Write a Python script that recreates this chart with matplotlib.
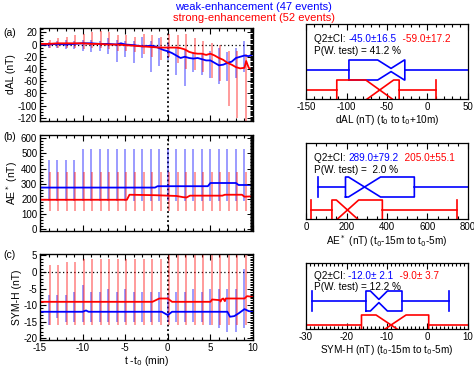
import matplotlib
matplotlib.use("Agg")
import matplotlib.pyplot as plt
import numpy as np
from matplotlib.ticker import MultipleLocator, NullFormatter

plt.rcParams["font.family"] = ["Liberation Sans", "DejaVu Sans"]
plt.rcParams["axes.unicode_minus"] = False

BLUE = "#0000ff"
RED = "#ff0000"

# --- error bars: quartile range at each minute ---
BAR_T = np.arange(-14, 10)
dal_blue_lo = [-6, -6, -8, -8, -10, -12, -10, -15, -28, -20, -30, -22, -45, -35,
               -25, -50, -68, -45, -50, -55, -65, -60, -55, -45]
dal_blue_hi = [4, 6, 7, 6, 8, 8, 6, 10, 8, 6, 5, 12, 5, 10,
               2, -5, -8, -12, -15, -10, -5, -12, -5, 5]
dal_red_lo = [-5, -6, -5, -6, -8, -6, -5, -8, -10, -10, -12, -15, -20, -25,
              -20, -30, -40, -42, -45, -55, -60, -100, -120, -130]
dal_red_hi = [8, 10, 12, 15, 18, 20, 22, 20, 15, 15, 12, 18, 15, 12,
              18, 15, 18, 10, 5, 2, 0, -10, -10, -15]

ae_blue_lo = [187] * 24
ae_blue_hi = [455, 455, 455, 455] + [527] * 20
ae_red_lo = [119] * 24
ae_red_hi = [378] * 24

sym_blue_lo = [-16, -14, -15, -15, -15, -15, -15, -15, -15, -15, -15, -15, -15, -15,
               -15, -15, -15, -15, -15, -16, -17, -18, -18, -17]
sym_blue_hi = [-7, -7, -7, -6, -4, -6, -6, -5, -6, -5, -6, -6, -6, -6,
               -7, -6, -6, -5, -6, -5, -5, -5, -5, 1]
sym_red_lo = [-16] * 24
sym_red_hi = [2, 2, 3, 3, 4, 4, 4, 4, 4, 4, 4, 4, 4, 4,
              5, 5, 5, 5, 5, 5, 5, 5, 5, 5]

# --- median curves ---
dal_blue_t = [-15, -14, -13, -12, -11, -10, -9, -8, -7, -6, -5.5, -5, -4, -3, -2, -1.5,
              -1, -0.5, 0, 0.5, 1, 1.5, 2, 2.5, 3, 3.5, 4, 4.5, 5, 5.5, 6, 6.5, 7,
              7.5, 8, 8.5, 9, 9.5, 10]
dal_blue_v = [0, 0, 1, 0, 1, 2, 2, 1, 1, 0, 2, 0, -1, -3, -2, -3, -6, -9, -11, -14,
              -18, -22, -20, -22, -23, -22, -24, -26, -26, -30, -34, -33, -30, -28,
              -22, -20, -18, -19, -16]
dal_red_t = [-15, -14, -13, -12, -11, -10, -9, -8, -7, -6, -5, -4, -3, -2, -1, 0, 0.5,
             1, 1.5, 2, 2.5, 3, 3.5, 4, 4.5, 5, 5.5, 6, 6.5, 7, 7.5, 8, 8.5, 9, 9.2,
             9.5, 10]
dal_red_v = [1, 1, 2, 2, 2, 2, 1, 1, 0, 0, -1, -2, -3, -4, -5, -5, -5, -5, -6, -8,
             -12, -14, -15, -15, -17, -15, -18, -22, -25, -30, -33, -37, -39, -38,
             -27, -38, -44]

ae_blue_t = [-15, -1.5, -1.2, 4.7, 5.0, 8.0, 8.3, 10]
ae_blue_v = [275, 275, 284, 284, 305, 305, 292, 292]
ae_red_t = [-15, -4.8, -4.5, -1.5, 0, 1, 1.8, 2.2, 2.6, 6.4, 6.7, 8.7, 9.0, 10]
ae_red_v = [195, 195, 228, 225, 222, 220, 212, 210, 222, 222, 228, 228, 215, 218]

sym_blue_t = [-15, -10, -9.6, -9.3, -0.7, 0, 0.5, 7, 7.3, 7.8, 8.3, 9, 9.5, 10]
sym_blue_v = [-12, -12, -11.6, -12, -12, -13, -12, -12, -13.5, -13.3, -12.5, -11.2,
              -11.8, -12]
sym_red_t = [-15, -1.8, -1, 0, 0.5, 5, 5.2, 6.1, 6.2, 6.3, 6.5, 6.7, 6.8, 7, 9, 9.3, 10]
sym_red_v = [-9, -9, -8, -8, -9, -9, -8.3, -8.5, -8.9, -8.3, -8, -8.8, -8, -8, -8,
             -7.3, -7.5]

# --- box statistics: lo whisker, q1, median, ci, q3, hi whisker ---
box_dal_blue = (-180, -97, -45.0, 16.5, -28, 80)
box_dal_red = (-180, -112, -59.0, 17.2, -35, 10)
box_ae_blue = (57, 195, 289.0, 79.2, 535, 900)
box_ae_red = (25, 128, 205.0, 55.1, 377, 745)
box_sym_blue = (-28.5, -15.2, -12.0, 2.1, -6.3, 5.2)
box_sym_red = (-35, -16.3, -9.0, 3.7, 0.3, 15)
p_values = ["41.2", " 2.0", "12.2"]
ci_texts = [("-45.0\u00b116.5", "-59.0\u00b117.2"),
            ("289.0\u00b179.2", "205.0\u00b155.1"),
            ("-12.0\u00b1 2.1", "-9.0\u00b1 3.7")]

W, H = 474, 369
fig = plt.figure(figsize=(W / 100, H / 100), dpi=100)


def frac(x0, y0, x1, y1):
    return [x0 / W, 1 - y1 / H, (x1 - x0) / W, (y1 - y0) / H]


left_boxes = [frac(40, 28, 253, 121), frac(40, 135, 253, 231), frac(40, 254, 253, 340)]
right_boxes = [frac(306, 24, 468, 99), frac(306, 143, 468, 219), frac(306, 263, 468, 329)]
tag_y = [33, 137, 255]

TICK_FS = 7.0


def style_ax(ax, right=True):
    ax.tick_params(which="both", direction="in", top=True, right=right,
                   labelsize=TICK_FS, width=0.8, pad=2)
    ax.tick_params(which="major", length=4)
    ax.tick_params(which="minor", length=2)
    for s in ax.spines.values():
        s.set_linewidth(0.9)


def draw_bars(ax, lo, hi, color, dt):
    ax.vlines(BAR_T + dt, lo, hi, color=color, alpha=0.5, lw=1.1, zorder=2)


# ---- left panels ----
left_specs = [
    ("dAL (nT)", (-125, 27), 20, 5, 2, dal_blue_lo, dal_blue_hi, dal_red_lo, dal_red_hi,
     dal_blue_t, dal_blue_v, dal_red_t, dal_red_v, "(a)"),
    ("AE$^*$ (nT)", (-10, 620), 100, 20, 5, ae_blue_lo, ae_blue_hi, ae_red_lo, ae_red_hi,
     ae_blue_t, ae_blue_v, ae_red_t, ae_red_v, "(b)"),
    ("SYM-H (nT)", (-20.5, 5.4), 5, 1, 0.5, sym_blue_lo, sym_blue_hi, sym_red_lo,
     sym_red_hi, sym_blue_t, sym_blue_v, sym_red_t, sym_red_v, "(c)"),
]

for i, (lab, ylim, maj, mnr, rmnr, blo, bhi, rlo, rhi, bt, bv, rt, rv, tag) in enumerate(left_specs):
    ax = fig.add_axes(left_boxes[i])
    draw_bars(ax, blo, bhi, BLUE, 0.0)
    draw_bars(ax, rlo, rhi, RED, 0.15)
    ax.plot(bt, bv, color=BLUE, lw=1.3, zorder=3)
    ax.plot(rt, rv, color=RED, lw=1.3, zorder=3)
    ax.axvline(0, color="k", ls=(0, (1, 1.5)), lw=1.3, zorder=1)
    if i != 1:
        ax.axhline(0, color="k", ls=(0, (1, 2)), lw=0.9, zorder=1)
    ax.set_xlim(-15, 10)
    ax.set_ylim(*ylim)
    ax.xaxis.set_major_locator(MultipleLocator(5))
    ax.xaxis.set_minor_locator(MultipleLocator(1))
    ax.yaxis.set_major_locator(MultipleLocator(maj))
    ax.yaxis.set_minor_locator(MultipleLocator(mnr))
    style_ax(ax, right=False)
    # denser ticks on the right-hand axis
    ax2 = ax.twinx()
    ax2.set_ylim(*ylim)
    ax2.yaxis.set_major_locator(MultipleLocator(maj))
    ax2.yaxis.set_minor_locator(MultipleLocator(rmnr))
    ax2.yaxis.set_major_formatter(NullFormatter())
    ax2.tick_params(which="both", direction="in", width=0.7)
    ax2.tick_params(which="major", length=4)
    ax2.tick_params(which="minor", length=2.5)
    ax.set_ylabel(lab, fontsize=7.5, labelpad=1)
    if i < 2:
        ax.set_xticklabels([])
    else:
        ax.set_xlabel("t -t$_0$ (min)", fontsize=7.5, labelpad=1)
    fig.text(3 / W, 1 - tag_y[i] / H, tag, fontsize=7.5, ha="left", va="center")


# ---- right panels: notched boxes ----
def notched_box(ax, stats, yc, half, color, depth):
    lo, q1, med, ci, q3, hi = stats
    yb, yt = yc - half, yc + half
    d = depth * 2 * half
    xs = [q1, med - ci, med, med + ci, q3, q3, med + ci, med, med - ci, q1, q1]
    ys = [yb, yb, yb + d, yb, yb, yt, yt, yt - d, yt, yt, yb]
    ax.plot(xs, ys, color=color, lw=1.2, clip_on=True)
    ax.plot([lo, q1], [yc, yc], color=color, lw=1.2)
    ax.plot([q3, hi], [yc, yc], color=color, lw=1.2)
    ax.plot([lo, lo], [yb, yt], color=color, lw=1.2)
    ax.plot([hi, hi], [yb, yt], color=color, lw=1.2)


right_specs = [
    ("dAL (nT) (t$_0$ to t$_0$+10m)", (-150, 50), 50, 10, box_dal_blue, box_dal_red,
     75, 29, 9),
    ("AE$^*$ (nT) (t$_0$-15m to t$_0$-5m)", (0, 800), 200, 50, box_ae_blue, box_ae_red,
     76, 32, 9),
    ("SYM-H (nT) (t$_0$-15m to t$_0$-5m)", (-30, 10), 10, 1, box_sym_blue, box_sym_red,
     66, 28, 4),
]
for i, (lab, xlim, maj, mnr, sb, sr, hpx, yb_c, yr_c) in enumerate(right_specs):
    ax = fig.add_axes(right_boxes[i])
    ax.set_xlim(*xlim)
    ax.set_ylim(0, hpx)
    notched_box(ax, sb, yb_c, 10, BLUE, 0.42 if i != 1 else 0.5)
    notched_box(ax, sr, yr_c, 10, RED, 0.5)
    ax.xaxis.set_major_locator(MultipleLocator(maj))
    ax.xaxis.set_minor_locator(MultipleLocator(mnr))
    ax.set_yticks([])
    style_ax(ax)
    ax.tick_params(left=False, right=False, which="both")
    ax.set_xlabel(lab, fontsize=7.2, labelpad=1)
    t1 = ax.text(0.05, 0.80, "Q2\u00b1CI: ", transform=ax.transAxes, fontsize=7.2,
                 va="center", ha="left")
    t2 = ax.annotate(ci_texts[i][0], xycoords=t1, xy=(1, 0), va="bottom",
                     fontsize=7.2, color=BLUE)
    ax.annotate("  " + ci_texts[i][1], xycoords=t2, xy=(1, 0), va="bottom",
                fontsize=7.2, color=RED)
    ax.text(0.05, 0.64, "P(W. test) = " + p_values[i] + " %", transform=ax.transAxes,
            fontsize=7.2, va="center", ha="left")

fig.text(175 / W, 1 - 7 / H, "weak-enhancement (47 events)", color=BLUE,
         fontsize=8, va="center", ha="left")
fig.text(173 / W, 1 - 18 / H, "strong-enhancement (52 events)", color=RED,
         fontsize=8, va="center", ha="left")

fig.savefig("out.png", dpi=100)
